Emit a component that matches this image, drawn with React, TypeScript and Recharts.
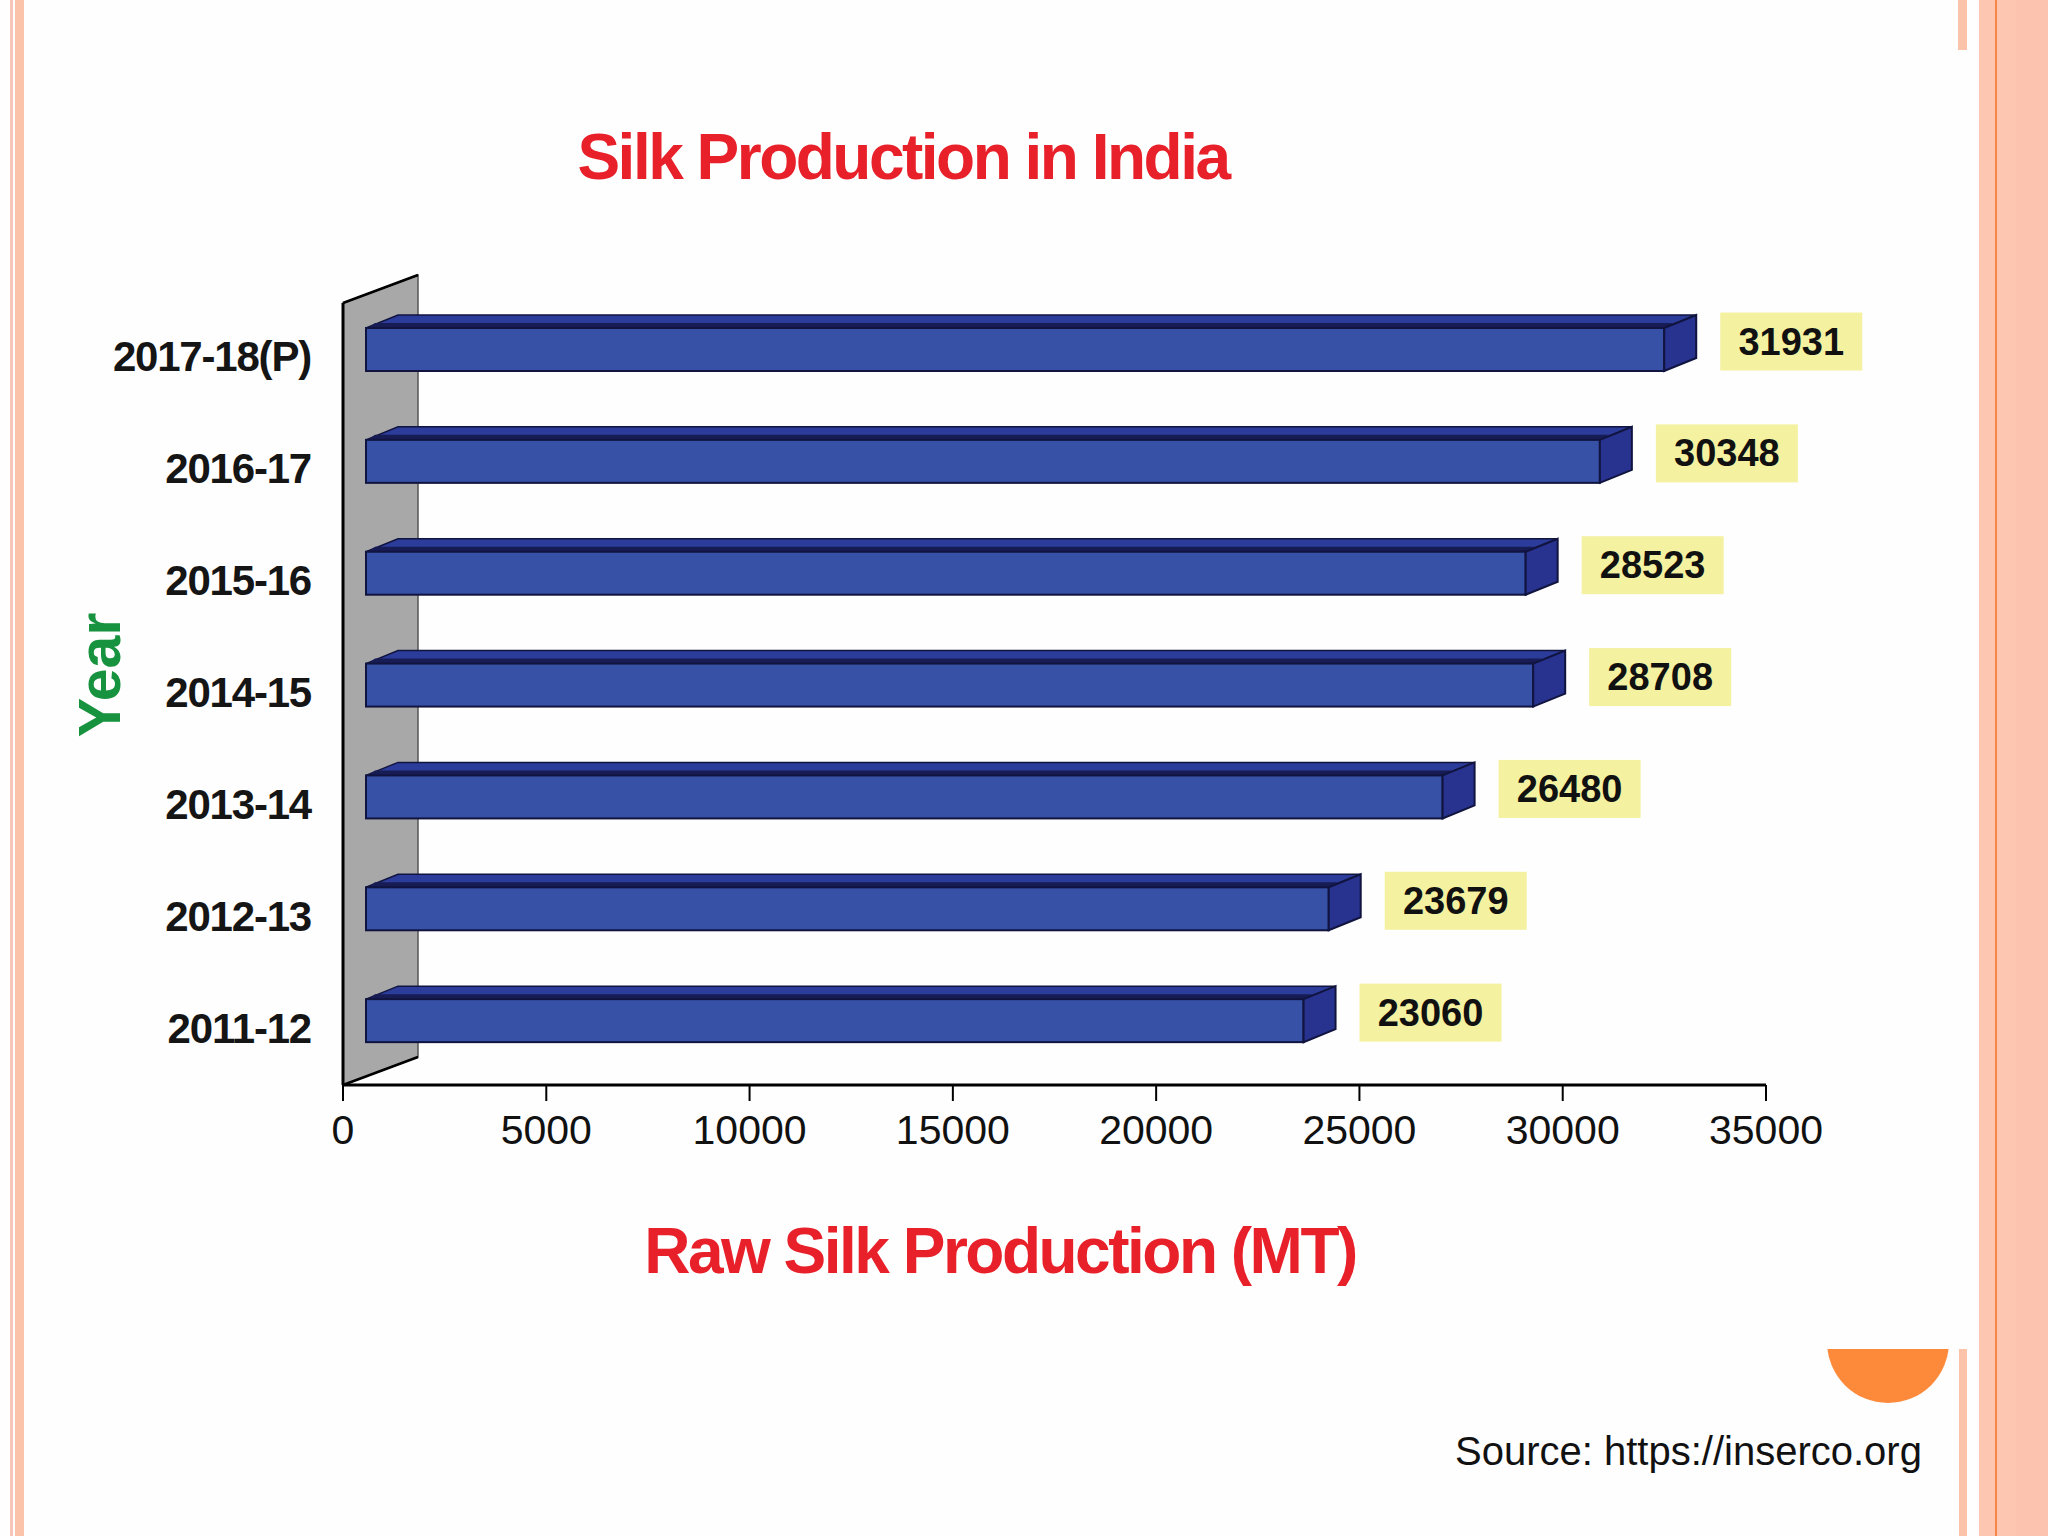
import { BarChart, Bar, XAxis, YAxis, LabelList } from "recharts";

const YEARS = ["2017-18(P)", "2016-17", "2015-16", "2014-15", "2013-14", "2012-13", "2011-12"];
const PRODUCTION = [31931, 30348, 28523, 28708, 26480, 23679, 23060];
const X_TICKS = [0, 5000, 10000, 15000, 20000, 25000, 30000, 35000];

const data = YEARS.map((year, i) => ({ year, value: PRODUCTION[i] }));

const W = 2048;
const H = 1536;
const PLOT_LEFT = 343;
const PLOT_RIGHT = 1766;
const PLOT_TOP = 294;
const PLOT_BOTTOM = 1085;
const X_AXIS_H = 60;
const FONT = '"Liberation Sans", Arial, Helvetica, sans-serif';

// fake 3d depth of the bars and the side wall
const OFF = 23;
const DX = 32;
const DY = 13;
const WALL_DX = 75;
const WALL_DY = 28;
const GAP = 24;

const Bar3D = (props: any) => {
	const { x, y, width, height } = props;
	if (width == null || width <= 0) return null;
	const x0 = x + OFF;
	const x1 = x0 + width;
	const top = y;
	const bot = y + height;
	return (
		<g>
			<polygon
				points={`${x0},${top} ${x0 + DX},${top - DY} ${x1 + DX},${top - DY} ${x1},${top}`}
				fill='#2c3c9a'
				stroke='#10143f'
				strokeWidth={1.5}
			/>
			<polygon
				points={`${x0 + 2},${top} ${x0 + 9},${top - 5} ${x1 + 9},${top - 5} ${x1},${top}`}
				fill='#171c55'
			/>
			<rect
				x={x0}
				y={top}
				width={width}
				height={height}
				fill='#3651a6'
				stroke='#10143f'
				strokeWidth={2}
			/>
			<polygon
				points={`${x1},${top} ${x1 + DX},${top - DY} ${x1 + DX},${bot - DY} ${x1},${bot}`}
				fill='#28338f'
				stroke='#10143f'
				strokeWidth={2}
			/>
		</g>
	);
};

const ValueBox = (props: any) => {
	const vb = props.viewBox || {};
	const x = props.x ?? vb.x;
	const y = props.y ?? vb.y;
	const width = props.width ?? vb.width;
	const height = props.height ?? vb.height;
	const bx = x + OFF + width + DX + GAP;
	const cy = y + height / 2 - 8;
	return (
		<g>
			<rect x={bx} y={cy - 29} width={142} height={58} fill='#f4f1a0' />
			<text
				x={bx + 71}
				y={cy}
				textAnchor='middle'
				dominantBaseline='central'
				fontFamily={FONT}
				fontWeight='bold'
				fontSize={38}
				fill='#111'
			>
				{props.value}
			</text>
		</g>
	);
};

const YTick = (props: any) => {
	const { x, y, payload } = props;
	return (
		<text
			x={x}
			y={y + 7}
			textAnchor='end'
			dominantBaseline='central'
			fontFamily={FONT}
			fontWeight='bold'
			fontSize={42}
			letterSpacing={-1.2}
			fill='#151515'
		>
			{payload.value}
		</text>
	);
};

const Backdrop = () => (
	<svg
		width={W}
		height={H}
		style={{ position: "absolute", left: 0, top: 0 }}
	>
		<rect x={0} y={0} width={W} height={H} fill='#fefefe' />
		{/* slide frame */}
		<rect x={10} y={0} width={3} height={H} fill='#f6c6ba' />
		<rect x={15} y={0} width={9} height={H} fill='#fbc3aa' />
		<rect x={1958} y={0} width={9} height={50} fill='#fbc3aa' />
		<rect x={1959} y={1349} width={8} height={H - 1349} fill='#fbc3aa' />
		<rect x={1979} y={0} width={69} height={H} fill='#fcc6b0' />
		<rect x={2016} y={0} width={32} height={H} fill='#fcc4ae' />
		<rect x={1995} y={0} width={2} height={H} fill='#f7884a' />
		<clipPath id='half'>
			<rect x={1820} y={1349} width={140} height={80} />
		</clipPath>
		<circle cx={1888} cy={1342} r={61} fill='#fd8a3a' clipPath='url(#half)' />

		{/* left wall of the 3d plot */}
		<polygon
			points={`${PLOT_LEFT},${PLOT_TOP + 9} ${PLOT_LEFT + WALL_DX},${PLOT_TOP + 9 - WALL_DY} ${PLOT_LEFT + WALL_DX},${PLOT_BOTTOM - WALL_DY} ${PLOT_LEFT},${PLOT_BOTTOM}`}
			fill='#a8a8a8'
			stroke='#555'
			strokeWidth={1.5}
		/>
		<line x1={PLOT_LEFT} y1={PLOT_TOP + 9} x2={PLOT_LEFT + WALL_DX} y2={PLOT_TOP + 9 - WALL_DY} stroke='#000' strokeWidth={2.5} />
		<line x1={PLOT_LEFT} y1={PLOT_BOTTOM} x2={PLOT_LEFT + WALL_DX} y2={PLOT_BOTTOM - WALL_DY} stroke='#000' strokeWidth={2.5} />
		<line x1={PLOT_LEFT} y1={PLOT_TOP + 9} x2={PLOT_LEFT} y2={PLOT_BOTTOM} stroke='#000' strokeWidth={3} />

		<text
			x={903}
			y={179}
			textAnchor='middle'
			fontFamily={FONT}
			fontWeight='bold'
			fontSize={64}
			letterSpacing={-2.5}
			fill='#e8202a'
		>
			Silk Production in India
		</text>
		<text
			x={1000}
			y={1273}
			textAnchor='middle'
			fontFamily={FONT}
			fontWeight='bold'
			fontSize={64}
			letterSpacing={-2.5}
			fill='#e8202a'
		>
			Raw Silk Production (MT)
		</text>
		<text
			transform='translate(120, 675) rotate(-90)'
			textAnchor='middle'
			fontFamily={FONT}
			fontWeight='bold'
			fontSize={59}
			fill='#17923f'
		>
			Year
		</text>
		<text
			x={1455}
			y={1465}
			fontFamily={FONT}
			fontSize={40}
			fill='#111'
		>
			Source: https://inserco.org
		</text>
	</svg>
);

const App = () => {
	return (
		<div style={{ position: "absolute", left: 0, top: 0, width: W, height: H }}>
			<Backdrop />
			<div style={{ position: "absolute", left: 0, top: 0 }}>
				<BarChart
					width={W}
					height={H}
					data={data}
					layout='vertical'
					margin={{
						top: PLOT_TOP,
						right: W - PLOT_RIGHT,
						bottom: H - PLOT_BOTTOM - X_AXIS_H,
						left: 0,
					}}
				>
					<XAxis
						type='number'
						domain={[0, 35000]}
						ticks={X_TICKS}
						interval={0}
						height={X_AXIS_H}
						axisLine={{ stroke: "#000", strokeWidth: 3 }}
						tickLine={{ stroke: "#000", strokeWidth: 2 }}
						tickSize={16}
						tickMargin={14}
						tick={{ fontSize: 41, fill: "#111", fontFamily: FONT }}
					/>
					<YAxis
						type='category'
						dataKey='year'
						width={PLOT_LEFT}
						interval={0}
						axisLine={false}
						tickLine={false}
						tickSize={0}
						tickMargin={32}
						padding={{ top: 0, bottom: 8 }}
						tick={<YTick />}
					/>
					<Bar
						dataKey='value'
						barSize={43}
						shape={<Bar3D />}
						isAnimationActive={false}
					>
						<LabelList
							dataKey='value'
							content={<ValueBox />}
						/>
					</Bar>
				</BarChart>
			</div>
		</div>
	);
};

export default App;
